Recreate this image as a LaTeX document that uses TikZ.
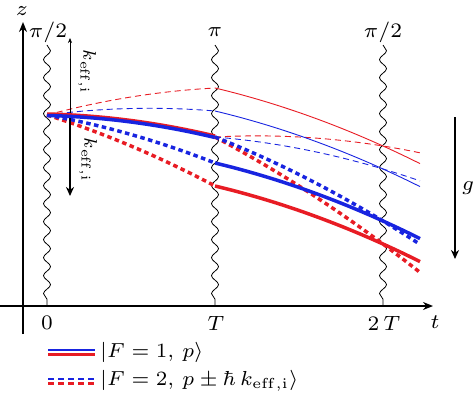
\documentclass[tikz,border=0pt]{standalone}
\usetikzlibrary{arrows.meta,decorations.pathmorphing}
\definecolor{myred}{RGB}{232,28,36}
\definecolor{myblue}{RGB}{24,36,224}
\newcommand\mylbl[1]{\scalebox{2.95}{#1}}
\newcommand\myklbl[1]{\scalebox{2.6}{#1}}
\newcommand\mylegt[1]{\scalebox{2.9}{#1}}
\begin{document}
\begin{tikzpicture}[x=1pt,y=-1pt,
  every node/.style={font=\fontsize{7}{8}\selectfont, inner sep=0pt},
  legtext/.style={anchor=west},
  wavy/.style={decorate, decoration={snake, amplitude=3.5pt, segment length=18pt}, line width=0.8pt},
  thinsolid/.style={line width=0.9pt},
  thindash/.style={line width=0.9pt, dash pattern=on 6pt off 4pt},
  thicksolid/.style={line width=3.5pt},
  thickdash/.style={line width=3.5pt, dash pattern=on 4.5pt off 3.5pt},
  axisline/.style={line width=2.6pt},
  declare function={ya(\x,\a,\v)=\a+\v*((\x-47)/168)+18*((\x-47)/168)^2;
                    yb(\x,\a,\v)=\a+\v*((\x-215)/168)+18*((\x-215)/168)^2;},
]
\useasboundingbox (0,0) rectangle (474,396);
% axes
\coordinate (zb) at (23,334);
\coordinate (zt) at (23,22);
\coordinate (tl) at (0,306);
\coordinate (tr) at (433,306);
\draw[axisline,-{Stealth[length=10pt,width=8pt]}] (zb) -- (zt);
\draw[axisline,-{Stealth[length=10pt,width=8pt]}] (tl) -- (tr);
\node (zlab) at (22,11.5) {\mylbl{$z$}};
\node (tlab) at (435,322) {\mylbl{$t$}};
% pulses
\coordinate (w0t) at (47,45);  \coordinate (w0b) at (47,306);
\coordinate (w1t) at (215,45); \coordinate (w1b) at (215,306);
\coordinate (w2t) at (383,45); \coordinate (w2b) at (383,306);
\draw[wavy] (w0t) -- (w0b);
\draw[wavy] (w1t) -- (w1b);
\draw[wavy] (w2t) -- (w2b);
\node (p0) at (48,32) {\mylbl{$\pi/2$}};
\node (p1) at (215,32) {\mylbl{$\pi$}};
\node (p2) at (383,32) {\mylbl{$\pi/2$}};
\node (l0) at (47,323) {\mylbl{$0$}};
\node (l1) at (216,323) {\mylbl{$T$}};
\node (l2) at (384,323) {\mylbl{$2\,T$}};
% trajectories, first interval
\draw[thindash,myred] plot[domain=47:215,samples=60] (\x,{ya(\x,115,-45)});
\draw[thindash,myblue] plot[domain=47:215,samples=60] (\x,{ya(\x,115,-22)});
% second interval thin
\draw[thinsolid,myred] plot[domain=215:420,samples=60] (\x,{yb(\x,88,40)});
\draw[thindash,myred] plot[domain=215:420,samples=60] (\x,{yb(\x,137,-9)});
\draw[thinsolid,myblue] plot[domain=215:420,samples=60] (\x,{yb(\x,111,40)});
\draw[thindash,myblue] plot[domain=215:420,samples=60] (\x,{yb(\x,137,14)});
% thick
\draw[thickdash,myred] plot[domain=47:215,samples=60] (\x,{ya(\x,115,53)});
\draw[thickdash,myblue] plot[domain=47:215,samples=60] (\x,{ya(\x,115,30)});
\draw[thicksolid,myred] plot[domain=47:215,samples=60] (\x,{ya(\x,114,4)});
\draw[thicksolid,myblue] plot[domain=47:215,samples=60] (\x,{ya(\x,115.5,4)});
\draw[thickdash,myred] plot[domain=215:420,samples=60] (\x,{yb(\x,137,89)});
\draw[thickdash,myblue] plot[domain=215:420,samples=60] (\x,{yb(\x,137,66)});
\draw[thicksolid,myred] plot[domain=215:420,samples=60] (\x,{yb(\x,186,40)});
\draw[thicksolid,myblue] plot[domain=215:420,samples=60] (\x,{yb(\x,163,40)});
% k arrows
\coordinate (ku0) at (70,113); \coordinate (ku1) at (70,38);
\coordinate (kd0) at (70,118); \coordinate (kd1) at (70,196);
\draw[line width=0.6pt,-{Stealth[length=5pt,width=4pt]}] (ku0) -- (ku1);
\draw[line width=2pt,-{Stealth[length=9pt,width=8pt]}] (kd0) -- (kd1);
\node[rotate=-90] (kl1) at (87,72) {\myklbl{$k_{\mathrm{eff{,}i}}$}};
\node[rotate=-90] (kl2) at (88,160) {\myklbl{$k_{\mathrm{eff{,}i}}$}};
% gravity
\coordinate (g0) at (455,117); \coordinate (g1) at (455,259);
\draw[line width=1.6pt,-{Stealth[length=9pt,width=8pt]}] (g0) -- (g1);
\node (glab) at (468,188) {\mylbl{$g$}};
% legend
\coordinate (a1) at (48,350); \coordinate (b1) at (95,350);
\coordinate (a2) at (48,354.5); \coordinate (b2) at (95,354.5);
\coordinate (a3) at (48,379); \coordinate (b3) at (95,379);
\coordinate (a4) at (48,383.5); \coordinate (b4) at (95,383.5);
\draw[myblue,line width=2.4pt] (a1) -- (b1);
\draw[myred,line width=2.4pt] (a2) -- (b2);
\draw[myblue,line width=2.4pt,dash pattern=on 6pt off 4pt] (a3) -- (b3);
\draw[myred,line width=2.4pt,dash pattern=on 6pt off 4pt] (a4) -- (b4);
\node[legtext] (leg1) at (100,352) {\mylegt{$|F=1,\,p\rangle$}};
\node[legtext] (leg2) at (100,381) {\mylegt{$|F=2,\,p\pm\hbar\,k_{\mathrm{eff{,}i}}\rangle$}};
\end{tikzpicture}
\end{document}
